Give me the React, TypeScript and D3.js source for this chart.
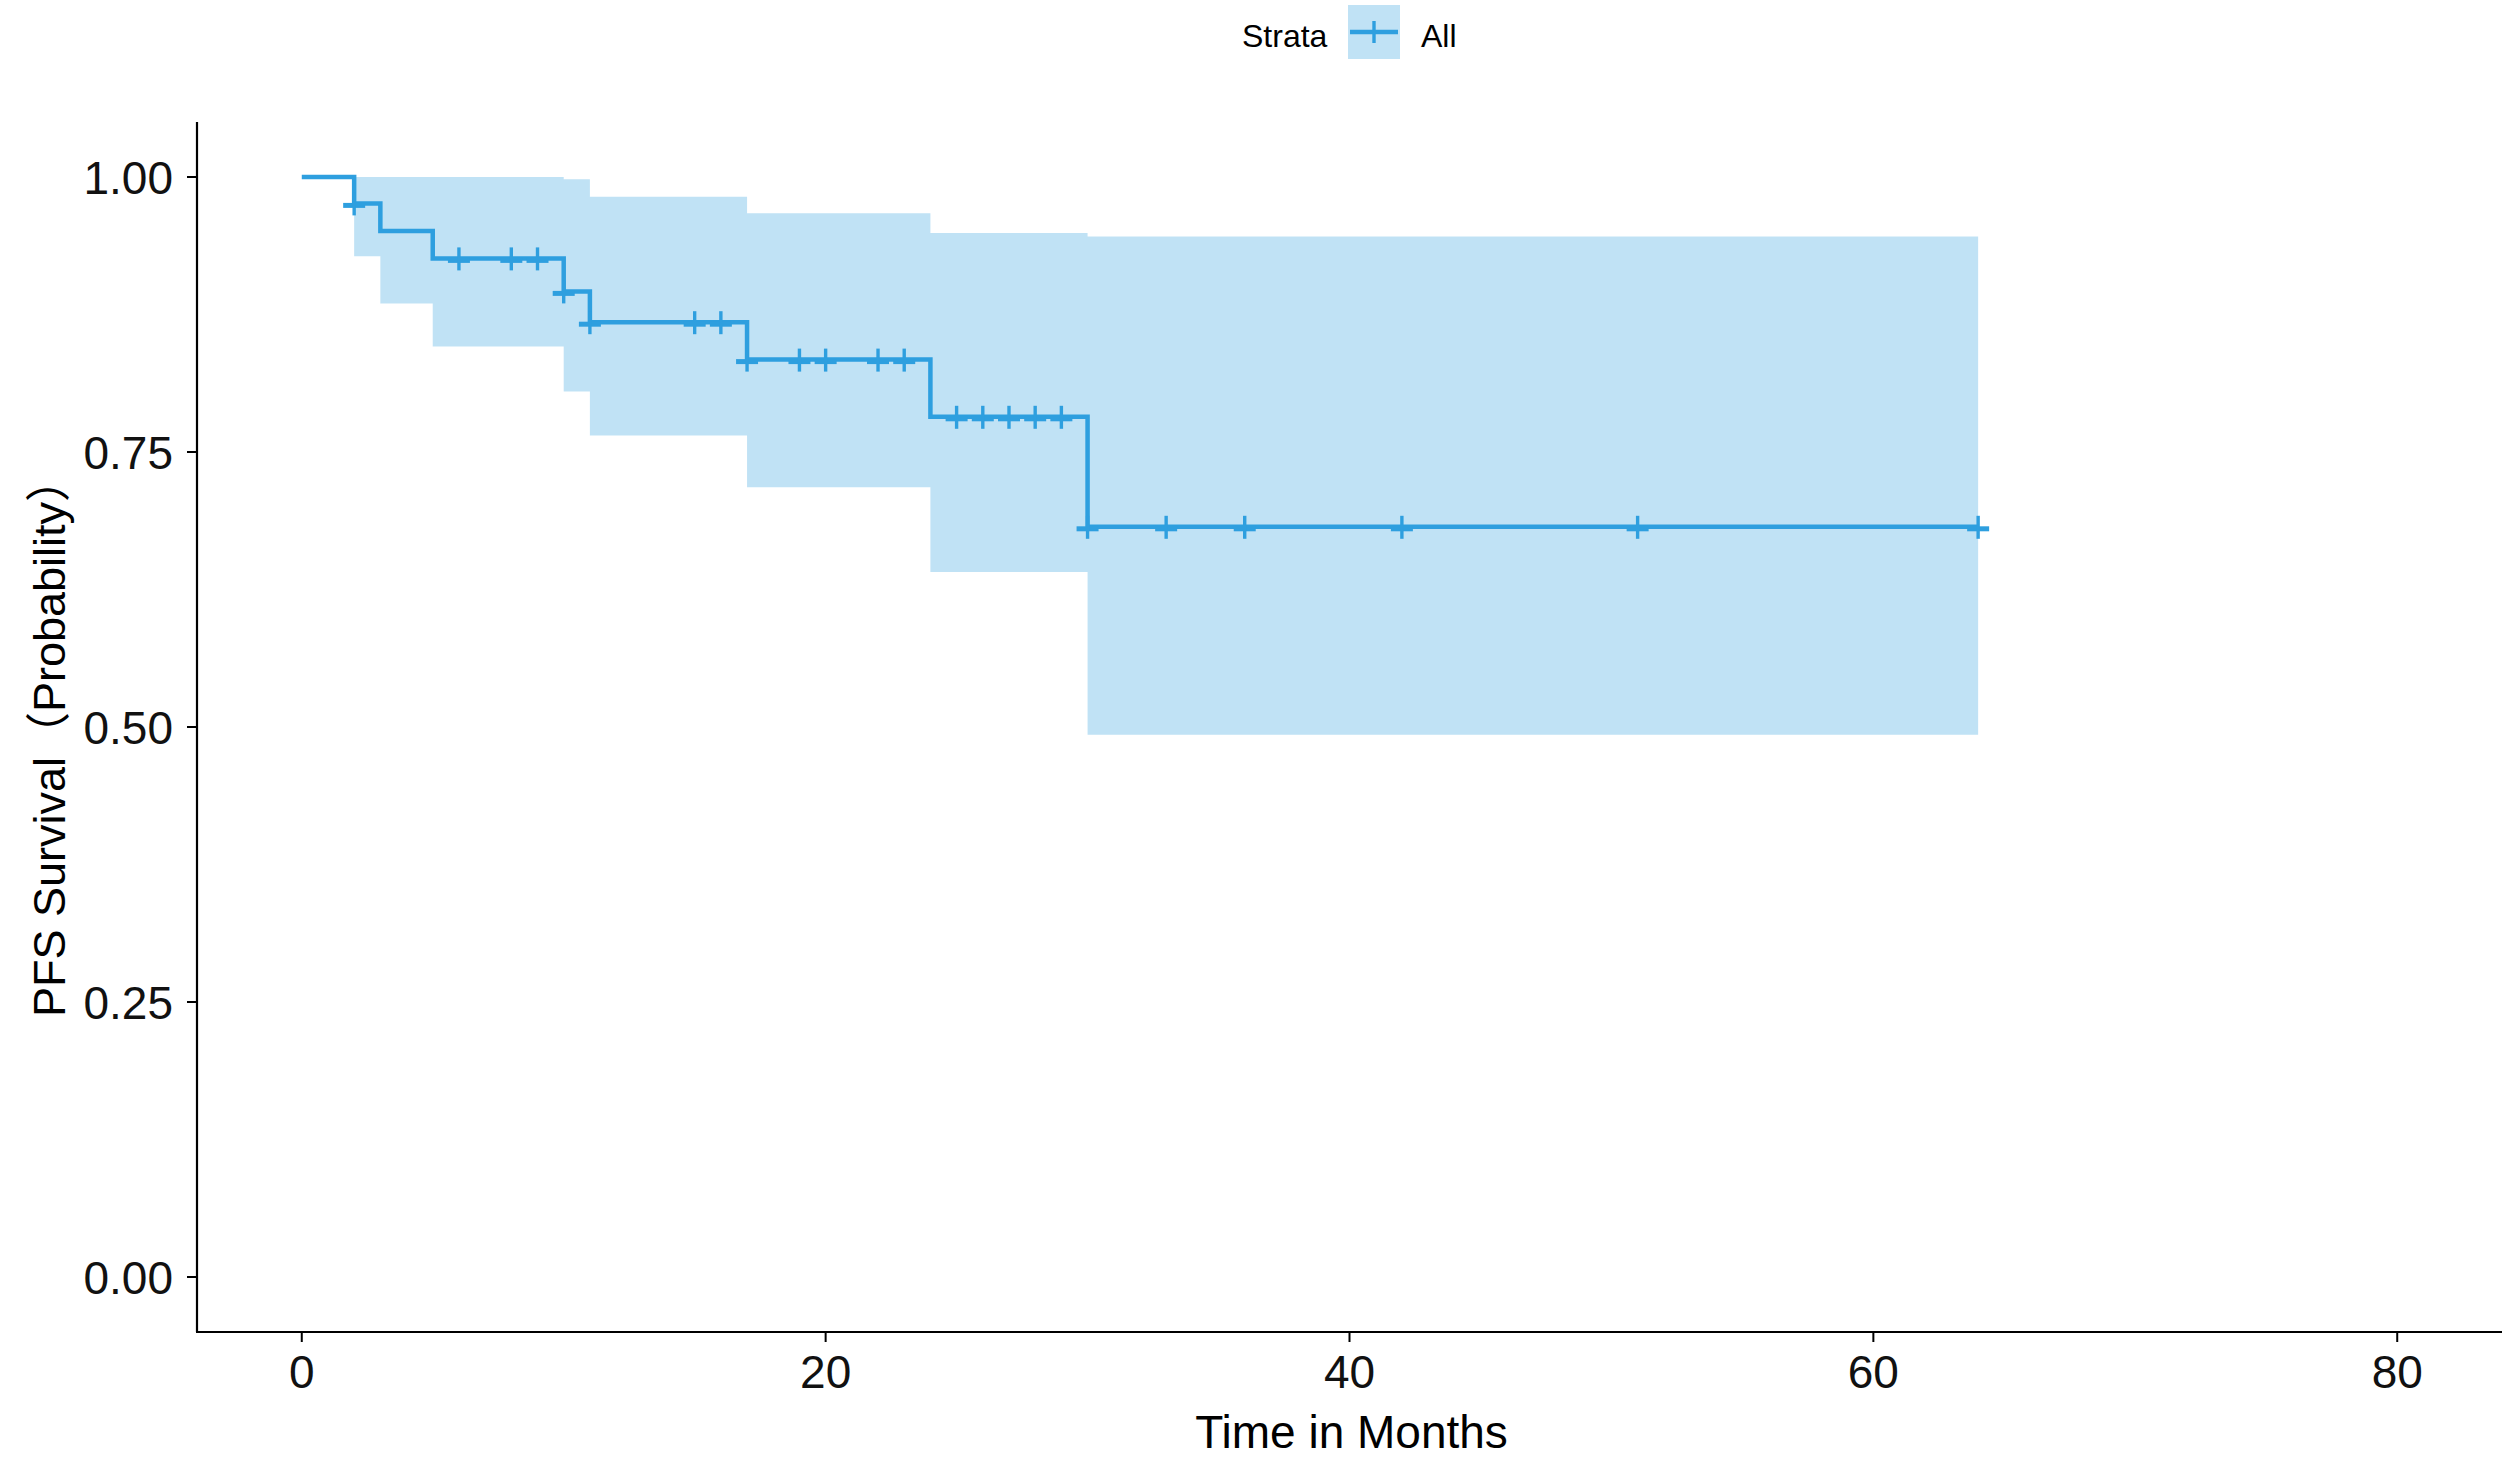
import { useRef, useEffect } from "react";
import * as d3 from "d3";

// KM step estimates
const stepTimes = [0, 2, 3, 5, 10, 11, 17, 24, 30, 64];
const survival = [1, 0.976, 0.951, 0.926, 0.896, 0.868, 0.834, 0.782, 0.682, 0.682];
const upperCI = [1, 1, 1, 1, 0.998, 0.982, 0.967, 0.949, 0.946, 0.946];
const lowerCI = [1, 0.928, 0.885, 0.846, 0.805, 0.765, 0.718, 0.641, 0.493, 0.493];
const censorTimes = [2, 6, 8, 9, 10, 11, 15, 16, 17, 19, 20, 22, 23, 25, 26, 27, 28, 29, 30, 33, 36, 42, 51, 64];

const xTicks = [0, 20, 40, 60, 80];
const yTicks = [0, 0.25, 0.5, 0.75, 1];

const LINE = "#2E9FDF";
const FONT = "'Liberation Sans', Arial, 'Noto Sans CJK SC', sans-serif";

export default function App() {
  const svgRef = useRef<SVGSVGElement>(null);

  useEffect(() => {
    document.body.style.margin = "0";
    if (!svgRef.current) return;
    const svg = d3.select(svgRef.current);
    svg.selectAll("*").remove();

    const width = 2509;
    const height = 1460;
    const panel = { left: 197, right: 2502, top: 122, bottom: 1332 };

    svg.attr("width", width).attr("height", height).style("background", "#fff");

    const x = d3.scaleLinear().domain([-4, 84]).range([panel.left, panel.right]);
    const y = d3.scaleLinear().domain([-0.05, 1.05]).range([panel.bottom, panel.top]);

    const rows = stepTimes.map((t, i) => ({
      t,
      s: survival[i],
      hi: upperCI[i],
      lo: lowerCI[i],
    }));

    // confidence ribbon
    const area = d3
      .area<(typeof rows)[number]>()
      .curve(d3.curveStepAfter)
      .x((d) => x(d.t))
      .y0((d) => y(d.lo))
      .y1((d) => y(d.hi));
    svg.append("path").datum(rows).attr("d", area).attr("fill", LINE).attr("fill-opacity", 0.3);

    // survival curve
    const line = d3
      .line<(typeof rows)[number]>()
      .curve(d3.curveStepAfter)
      .x((d) => x(d.t))
      .y((d) => y(d.s));
    svg
      .append("path")
      .datum(rows)
      .attr("d", line)
      .attr("fill", "none")
      .attr("stroke", LINE)
      .attr("stroke-width", 4.5);

    // censor marks
    const survAt = (t: number) => {
      let s = survival[0];
      stepTimes.forEach((st, i) => {
        if (st <= t) s = survival[i];
      });
      return s;
    };
    const half = 11;
    censorTimes.forEach((t) => {
      const cx = x(t);
      const cy = y(survAt(t));
      svg
        .append("path")
        .attr("d", `M${cx - half},${cy + 2}H${cx + half}`)
        .attr("stroke", LINE)
        .attr("stroke-width", 5);
      svg
        .append("path")
        .attr("d", `M${cx},${cy - half}V${cy + half + 1}`)
        .attr("stroke", LINE)
        .attr("stroke-width", 3.4);
    });

    // axes
    const axisColor = "#000";
    svg
      .append("line")
      .attr("x1", panel.left)
      .attr("x2", panel.left)
      .attr("y1", panel.top)
      .attr("y2", panel.bottom)
      .attr("stroke", axisColor)
      .attr("stroke-width", 2.2);
    svg
      .append("line")
      .attr("x1", panel.left - 1)
      .attr("x2", panel.right)
      .attr("y1", panel.bottom)
      .attr("y2", panel.bottom)
      .attr("stroke", axisColor)
      .attr("stroke-width", 2.2);

    yTicks.forEach((v) => {
      svg
        .append("line")
        .attr("x1", panel.left - 10)
        .attr("x2", panel.left)
        .attr("y1", y(v))
        .attr("y2", y(v))
        .attr("stroke", axisColor)
        .attr("stroke-width", 2);
      svg
        .append("text")
        .attr("x", panel.left - 24)
        .attr("y", y(v) + 17)
        .attr("text-anchor", "end")
        .attr("font-family", FONT)
        .attr("font-size", "46px")
        .attr("fill", "#111")
        .text(d3.format(".2f")(v));
    });

    xTicks.forEach((v) => {
      svg
        .append("line")
        .attr("x1", x(v))
        .attr("x2", x(v))
        .attr("y1", panel.bottom)
        .attr("y2", panel.bottom + 10)
        .attr("stroke", axisColor)
        .attr("stroke-width", 2);
      svg
        .append("text")
        .attr("x", x(v))
        .attr("y", 1388)
        .attr("text-anchor", "middle")
        .attr("font-family", FONT)
        .attr("font-size", "46px")
        .attr("fill", "#111")
        .text(v);
    });

    // axis titles
    svg
      .append("text")
      .attr("x", (panel.left + panel.right) / 2 + 2)
      .attr("y", 1448)
      .attr("text-anchor", "middle")
      .attr("font-family", FONT)
      .attr("font-size", "46px")
      .attr("fill", "#000")
      .text("Time in Months");

    svg
      .append("text")
      .attr("transform", `translate(65, ${(panel.top + panel.bottom) / 2 + 10}) rotate(-90)`)
      .attr("text-anchor", "middle")
      .attr("font-family", FONT)
      .attr("font-size", "45px")
      .attr("fill", "#000")
      .text("PFS Survival（Probability）");

    // legend
    const legend = svg.append("g");
    legend
      .append("text")
      .attr("x", 1242)
      .attr("y", 47)
      .attr("font-family", FONT)
      .attr("font-size", "32px")
      .attr("fill", "#000")
      .text("Strata");
    legend
      .append("rect")
      .attr("x", 1348)
      .attr("y", 5)
      .attr("width", 52)
      .attr("height", 54)
      .attr("fill", LINE)
      .attr("fill-opacity", 0.3);
    legend
      .append("path")
      .attr("d", "M1350,32H1398")
      .attr("stroke", LINE)
      .attr("stroke-width", 4.5);
    legend
      .append("path")
      .attr("d", "M1374,21V43")
      .attr("stroke", LINE)
      .attr("stroke-width", 3.4);
    legend
      .append("text")
      .attr("x", 1421)
      .attr("y", 47)
      .attr("font-family", FONT)
      .attr("font-size", "32px")
      .attr("fill", "#000")
      .text("All");
  }, []);

  return <svg ref={svgRef} style={{ display: "block" }} />;
}
